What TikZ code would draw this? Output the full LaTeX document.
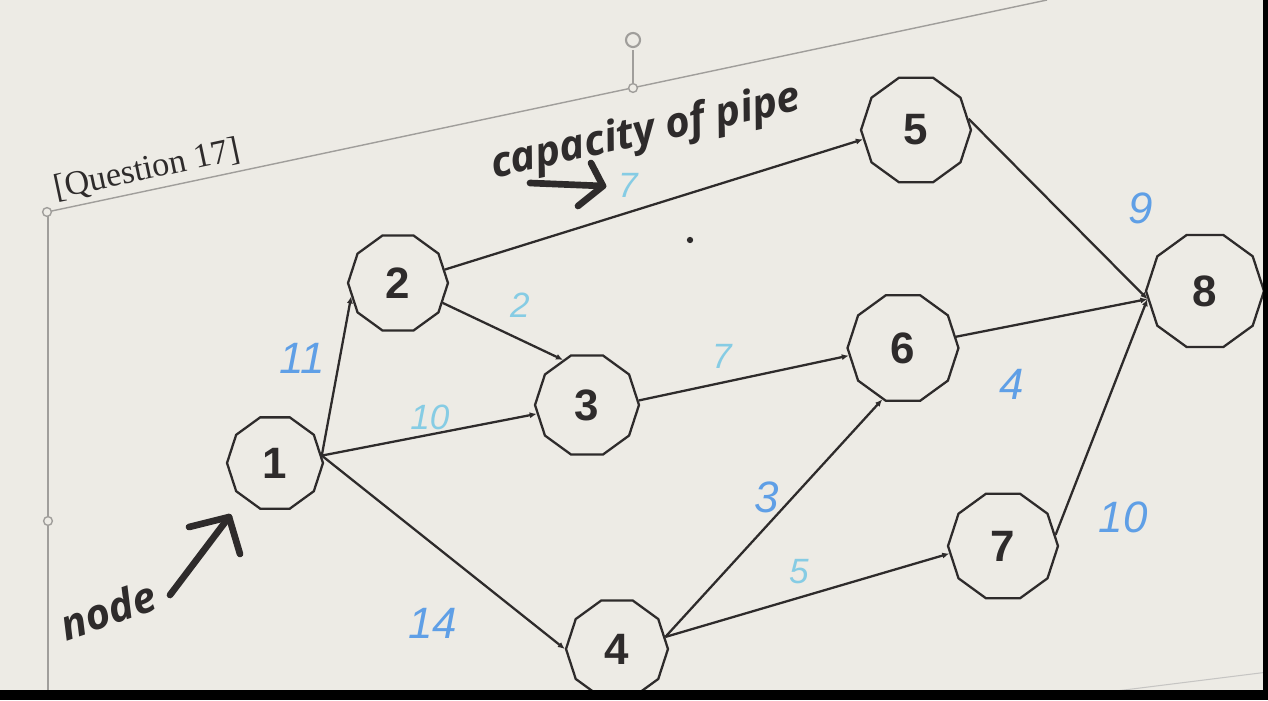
\documentclass[tikz,border=0pt]{standalone}
\usepackage{fontspec}
\setmainfont{Liberation Sans}
\newfontfamily\handfont{Open Sans}
\newfontfamily\serifq{Liberation Serif}
\usetikzlibrary{shapes.geometric,arrows.meta}
\definecolor{bg}{HTML}{EDEBE5}
\definecolor{ink}{HTML}{2E2B2B}
\definecolor{lblue}{HTML}{5F9FE6}
\definecolor{lcyan}{HTML}{86CCE4}
\definecolor{framec}{HTML}{A09E9B}
\begin{document}
\begin{tikzpicture}[x=0.02cm,y=-0.02cm,
  dec/.style={regular polygon, regular polygon sides=10, draw=ink, line width=1.3pt, inner sep=0pt, font=\bfseries\fontsize{25}{25}\selectfont, text=ink},
  pipe/.style={draw=ink, line width=1.3pt, -{Latex[length=4pt,width=3.5pt]}},
  capb/.style={font=\fontsize{25}{25}\selectfont\itshape, text=lblue},
  capc/.style={font=\fontsize{20}{20}\selectfont\itshape, text=lcyan},
  hand/.style={draw=ink, line width=3.8pt, line cap=round, line join=round},
  note/.style={font=\handfont\bfseries\itshape\fontsize{24}{24}\selectfont, text=ink},
  handle/.style={draw=framec, fill=bg, line width=0.8pt}
]
\fill[bg] (0,0) rectangle (1268,700);
\useasboundingbox (0,0) rectangle (1268,700);

% text box frame
\draw[framec, line width=0.8pt] (47,212) -- (1047,0);
\draw[framec, line width=0.8pt] (48,212) -- (48,690);
\draw[framec, line width=0.8pt] (633,88) -- (633,50);
\draw[handle] (47,212) circle (2.5pt);
\draw[handle] (633,88) circle (2.5pt);
\draw[handle] (48,521) circle (2.5pt);
\draw[handle, line width=1.2pt] (633,40) circle (4pt);

\node[font=\serifq\fontsize{19.5}{19.5}\selectfont, text=ink, rotate=12] (q) at (147,170) {[Question 17]};

% nodes
\node[dec, minimum size=1.92cm] (n1) at (275,463) {1};
\node[dec, minimum size=2.0cm]  (n2) at (398,283) {2};
\node[dec, minimum size=2.08cm] (n3) at (587,405) {3};
\node[dec, minimum size=2.04cm] (n4) at (617,649) {4};
\node[dec, minimum size=2.2cm]  (n5) at (916,130) {5};
\node[dec, minimum size=2.22cm] (n6) at (903,348) {6};
\node[dec, minimum size=2.2cm]  (n7) at (1003,546) {7};
\node[dec, minimum size=2.36cm] (n8) at (1205,291) {8};

% capacity labels
\node[capb] (c12) at (302,358) {11};
\node[capc] (c13) at (430,417) {10};
\node[capb] (c14) at (433,623) {14};
\node[capc] (c23) at (520,305) {2};
\node[capc] (c25) at (628,185) {7};
\node[capc] (c36) at (722,356) {7};
\node[capb] (c46) at (767,497) {3};
\node[capc] (c47) at (799,572) {5};
\node[capb] (c68) at (1012,384) {4};
\node[capb] (c78) at (1123,517) {10};
\node[capb] (c58) at (1141,208) {9};

% pipes
\draw[pipe] (n1.9) -- (n2.196);
\draw[pipe] (n1.9) -- (n3.190);
\draw[pipe] (n1.9) -- (n4.180);
\draw[pipe] (n2.16) -- (n5.190);
\draw[pipe] (n2.-24) -- (n3.118);
\draw[pipe] (n3.5) -- (n6.188);
\draw[pipe] (n4.14) -- (n6.248);
\draw[pipe] (n4.14) -- (n7.188);
\draw[pipe] (n5.12) -- (n8.188);
\draw[pipe] (n6.12) -- (n8.188);
\draw[pipe] (n7.12) -- (n8.188);

% annotations
\node[note, rotate=12.5] (capn) at (646,133) {capacity of pipe};
\draw[hand] (530,183) -- (603,186);
\draw[hand] (591,163) -- (603,186) -- (578,206);
\node[note, rotate=19] (noden) at (108,610) {node};
\draw[hand] (170,595) -- (229,517);
\draw[hand] (189,527) -- (229,517) -- (240,554);

\fill[ink] (690,240) circle (1.8pt);
\draw[framec!60, line width=0.6pt] (1060,698) -- (1268,672);
\fill[black] (0,690) rectangle (1268,700);
\fill[black] (1263,0) rectangle (1268,700);
\end{tikzpicture}
\end{document}
